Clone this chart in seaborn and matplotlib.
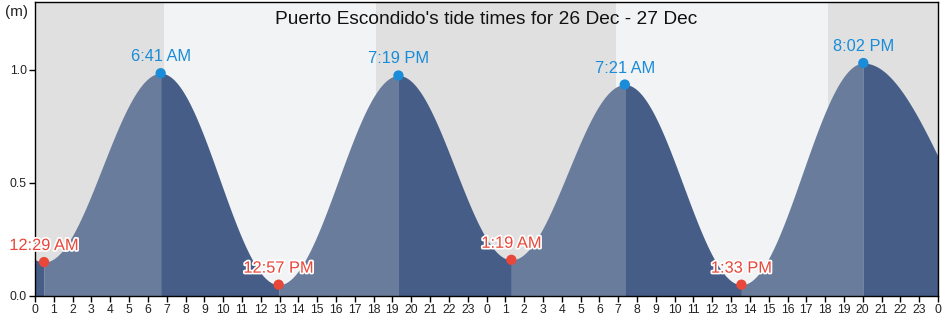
import numpy as np
import pandas as pd
import matplotlib
matplotlib.use("Agg")
import matplotlib.pyplot as plt
import matplotlib.patheffects as pe
import seaborn as sns

# ---- data (hours from 26 Dec 00:00) ----
extreme_times = [0.48, 6.68, 12.95, 19.32, 25.32, 31.35, 37.55, 44.03]
extreme_heights = [0.15, 0.985, 0.05, 0.975, 0.16, 0.935, 0.05, 1.03]
extreme_labels = ["12:29 AM", "6:41 AM", "12:57 PM", "7:19 PM",
                  "1:19 AM", "7:21 AM", "1:33 PM", "8:02 PM"]
extreme_kind = ["low", "high", "low", "high", "low", "high", "low", "high"]
# tide turning points just outside the window (for the curve at the edges)
edge_times = [-5.8, 52.7]
edge_heights = [0.95, 0.08]
# daylight (sunrise, sunset) in hours
sunrise = [6.86, 30.89]
sunset = [18.13, 42.16]
xtick_labels = [str(h % 24) for h in range(49)]
yticks = [0.0, 0.5, 1.0]
title = "Puerto Escondido's tide times for 26 Dec - 27 Dec"

sns.set_theme(style="white")
plt.rcParams['font.family'] = ['Liberation Sans', 'DejaVu Sans']

fig = plt.figure(figsize=(9.42, 3.18), dpi=100)
ax = fig.add_axes([35/942, 1-296/318, 903/942, 294/318])

NIGHT = "#e0e0e0"
DAY = "#f2f3f5"
RISE = "#6a7c9b"
FALL = "#455d87"
BLUE = "#1a8cd8"
RED = "#e8473a"

ax.set_facecolor(NIGHT)
for a, b in zip(sunrise, sunset):
    ax.axvspan(a, b, color=DAY, lw=0, zorder=0)

# piecewise cosine between turning points
kt = [edge_times[0]] + extreme_times + [edge_times[1]]
kh = [edge_heights[0]] + extreme_heights + [edge_heights[1]]
for i in range(len(kt) - 1):
    t0, t1, h0, h1 = kt[i], kt[i+1], kh[i], kh[i+1]
    a, b = max(t0, 0), min(t1, 48)
    if a >= b:
        continue
    t = np.linspace(a, b, 200)
    h = h0 + (h1 - h0) * (1 - np.cos(np.pi * (t - t0) / (t1 - t0))) / 2
    ax.fill_between(t, 0, h, color=RISE if h1 > h0 else FALL, lw=0, zorder=1)

df = pd.DataFrame({"t": extreme_times, "h": extreme_heights, "kind": extreme_kind})
sns.scatterplot(data=df, x="t", y="h", hue="kind", palette={"high": BLUE, "low": RED},
                s=55, edgecolor="none", legend=False, ax=ax, zorder=3, clip_on=False)

for t, h, lab, k in zip(extreme_times, extreme_heights, extreme_labels, extreme_kind):
    ax.annotate(lab, (t, h), xytext=(0, 6.5), textcoords="offset points",
                ha="center", va="bottom", fontsize=11.8,
                color=BLUE if k == "high" else RED, zorder=4,
                path_effects=[pe.withStroke(linewidth=2.5, foreground="white")] if k == "low" else None)

ax.set_xlim(0, 48)
ax.set_ylim(0, 1.3)
ax.set_xticks(range(49))
ax.set_xticklabels(xtick_labels, fontsize=8.8)
ax.set_yticks(yticks)
ax.set_yticklabels([f"{v:.1f}" for v in yticks], fontsize=8.8)
ax.tick_params(axis="both", direction="out", length=4, width=1, color="black",
               pad=2, labelcolor="#222222", bottom=True, left=True)
for s in ax.spines.values():
    s.set_color("black")
    s.set_linewidth(1)
ax.set_xlabel("")
ax.set_ylabel("")

fig.text(5/942, 1-12/318, "(m)", fontsize=11, ha="left", va="center", color="#222222")
ax.text(0.5, 1-17/294, title, transform=ax.transAxes, ha="center", va="center",
        fontsize=13.8, color="#111111")

fig.savefig("out.png", dpi=100)
